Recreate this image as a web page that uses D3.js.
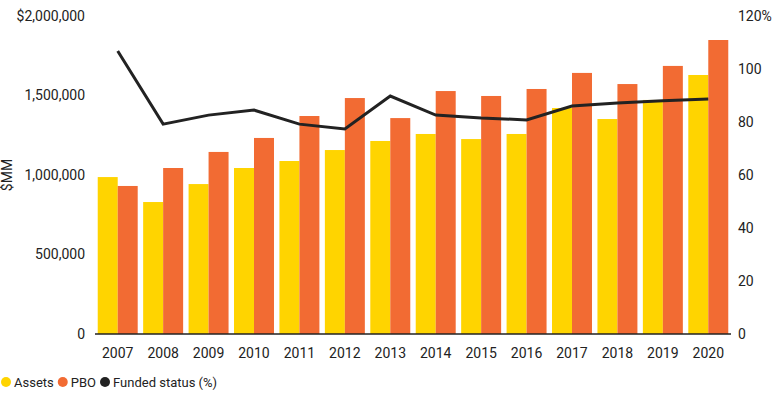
<!DOCTYPE html>
<html><head><meta charset="utf-8">
<script src="https://cdn.jsdelivr.net/npm/d3@7"></script>
<style>body{margin:0;background:#fff}text{font-family:Roboto,"Noto Sans",sans-serif}</style>
</head><body><svg id="c" width="780" height="400"></svg>
<script>
const years=["2007","2008","2009","2010","2011","2012","2013","2014","2015","2016","2017","2018","2019","2020"];
const assets=[987000,830000,943000,1044000,1088000,1157000,1214000,1258000,1226000,1258000,1421000,1352000,1472000,1629000];
const pbo=[931000,1044000,1145000,1233000,1371000,1484000,1358000,1528000,1497000,1541000,1642000,1572000,1686000,1849000];
const funded=[106.8,79.2,82.6,84.5,79.2,77.4,89.8,82.6,81.5,80.8,86,87.2,88,88.7];
const leftTicks=[0,500000,1000000,1500000,2000000];
const rightTicks=[0,20,40,60,80,100,120];
const svg=d3.select("#c");
const L=95,R=731,T=16,B=334;
const x=d3.scaleBand().domain(years).range([L,R]).paddingInner(0.12).paddingOuter(0.06);
const yL=d3.scaleLinear().domain([0,2000000]).range([B,T]);
const yR=d3.scaleLinear().domain([0,120]).range([B,T]);
const fmt=d3.format(",");
svg.append("g").selectAll("text").data(leftTicks).join("text")
 .attr("x",85).attr("y",d=>yL(d)).attr("dy","0.35em").attr("text-anchor","end")
 .attr("font-size",14).attr("fill","#222").text(d=>d===2000000?"$"+fmt(d):fmt(d));
svg.append("g").selectAll("text").data(rightTicks).join("text")
 .attr("x",738).attr("y",d=>yR(d)).attr("dy","0.35em").attr("font-size",14).attr("fill","#222")
 .text(d=>d===120?d+"%":d);
svg.append("text").attr("transform","translate(12,175) rotate(-90)").attr("text-anchor","middle")
 .attr("font-size",14).attr("fill","#222").text("$MM");
const bw=x.bandwidth()/2;
svg.append("g").selectAll("rect").data(years).join("rect").attr("x",d=>x(d)).attr("width",bw)
 .attr("y",(d,i)=>yL(assets[i])).attr("height",(d,i)=>B-yL(assets[i])).attr("fill","#FFD400");
svg.append("g").selectAll("rect").data(years).join("rect").attr("x",d=>x(d)+bw).attr("width",bw)
 .attr("y",(d,i)=>yL(pbo[i])).attr("height",(d,i)=>B-yL(pbo[i])).attr("fill","#F26B33");
svg.append("line").attr("x1",L).attr("x2",R).attr("y1",B).attr("y2",B).attr("stroke","#222").attr("stroke-width",1.5);
svg.append("path").datum(funded).attr("fill","none").attr("stroke","#222").attr("stroke-width",3)
 .attr("d",d3.line().x((d,i)=>x(years[i])+x.bandwidth()/2).y(d=>yR(d)));
svg.append("g").selectAll("text").data(years).join("text").attr("x",d=>x(d)+x.bandwidth()/2)
 .attr("y",358).attr("text-anchor","middle").attr("font-size",14).attr("fill","#222").text(d=>d);
const leg=[["Assets","#FFD400"],["PBO","#F26B33"],["Funded status (%)","#222"]];
let lx=6;
leg.forEach(([t,c])=>{
 svg.append("circle").attr("cx",lx).attr("cy",382).attr("r",5).attr("fill",c);
 const tx=svg.append("text").attr("x",lx+8).attr("y",382).attr("dy","0.35em").attr("font-size",13).attr("fill","#222").text(t);
 lx+=8+tx.node().getComputedTextLength()+9;
});
</script></body></html>
